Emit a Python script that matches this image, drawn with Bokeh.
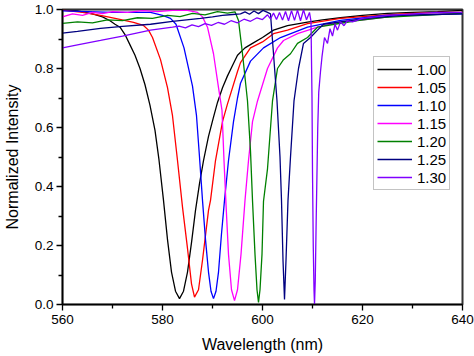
from bokeh.plotting import figure
from bokeh.models import Range1d, FixedTicker, Legend, LegendItem
from bokeh.embed import file_html
from bokeh.resources import INLINE

# ---- data ----
labels = ["1.00", "1.05", "1.10", "1.15", "1.20", "1.25", "1.30"]
colors = ["#000000", "#FF0000", "#0000FF", "#FF00FF", "#008000", "#000080", "#8000FF"]

wl_100 = [560, 563, 566, 568, 569.5, 570.5, 571.5, 572.5, 573.5, 574.5, 575.5, 576.5, 577.5, 578.5, 579.3,
          580.2, 581, 581.8, 582.6, 583.4, 584.2, 585, 585.8, 586.6, 587.4, 588.2, 589.2, 590.2, 591, 592,
          593, 594, 595, 596.5, 598, 600, 602.2, 605, 609, 612, 615.6, 620, 625, 630, 635, 640]
in_100 = [0.998, 0.995, 0.985, 0.975, 0.962, 0.95, 0.94, 0.915, 0.88, 0.845, 0.80, 0.745, 0.675, 0.59, 0.49,
          0.353, 0.22, 0.11, 0.045, 0.02, 0.045, 0.11, 0.21, 0.319, 0.41, 0.488, 0.57, 0.635, 0.685, 0.735,
          0.775, 0.81, 0.845, 0.87, 0.885, 0.905, 0.93, 0.945, 0.957, 0.965, 0.972, 0.98, 0.987, 0.99, 0.993, 0.997]

wl_105 = [560, 564, 567.6, 571, 574.2, 576.2, 577.2, 578, 579.6, 581, 582, 583, 584, 585, 585.8, 586.4,
          587.2, 588, 589.2, 589.6, 590.6, 592, 593, 595, 595.6, 597.6, 600, 602.2, 605, 609, 615.6, 620,
          627.8, 635, 640]
in_105 = [0.998, 0.99, 0.98, 0.968, 0.956, 0.946, 0.93, 0.905, 0.83, 0.735, 0.64, 0.488, 0.33, 0.19, 0.07, 0.025,
          0.05, 0.15, 0.319, 0.353, 0.488, 0.62, 0.68, 0.79, 0.82, 0.87, 0.89, 0.918, 0.93, 0.952, 0.97, 0.976,
          0.985, 0.99, 0.99]

wl_110 = [560, 570, 577.6, 580, 581.6, 582.7, 584.3, 586, 586.8, 587.4, 588, 588.6, 589.2, 589.7, 590.2,
          590.7, 591.2, 591.8, 592.4, 593.2, 594.2, 595, 595.6, 597.6, 600.2, 603.6, 609, 615.6, 624.4, 640]
in_110 = [0.995, 0.99, 0.99, 0.98, 0.97, 0.95, 0.87, 0.74, 0.64, 0.50, 0.353, 0.22, 0.11, 0.045, 0.02,
          0.045, 0.11, 0.24, 0.353, 0.488, 0.62, 0.70, 0.75, 0.825, 0.87, 0.905, 0.94, 0.963, 0.98, 0.985]

wl_115 = [560, 562, 564, 566, 568, 570, 573, 576, 579, 582, 585, 587, 588, 589, 590.2, 591.2, 591.9, 592.3,
          592.7, 593.2, 593.8, 594.4, 595, 595.7, 596.5, 597.2, 598, 599, 601, 603, 604.2, 607, 611, 615.6,
          620, 627.8, 640]
in_115 = [0.975, 0.985, 0.98, 0.99, 0.986, 0.993, 0.99, 0.996, 0.993, 0.997, 0.997, 0.99, 0.975, 0.94, 0.85,
          0.735, 0.658, 0.488, 0.34, 0.17, 0.05, 0.013, 0.05, 0.17, 0.353, 0.488, 0.62, 0.69, 0.80, 0.87, 0.895,
          0.918, 0.94, 0.957, 0.965, 0.98, 0.987]

wl_120 = [560, 563, 566, 569, 572, 575, 578, 581, 583.5, 586, 588.5, 591, 593, 594.5, 595.2, 596, 597, 597.6, 598,
          598.5, 598.9, 599.2, 599.5, 599.9, 600.2, 601, 602, 603, 604.2, 605.6, 607, 609, 611, 614.4, 619,
          624.4, 632, 640]
in_120 = [0.953, 0.958, 0.955, 0.965, 0.962, 0.972, 0.97, 0.98, 0.976, 0.987, 0.982, 0.993, 0.988, 0.992, 0.963, 0.85, 0.69,
          0.52, 0.353, 0.17, 0.05, 0.007, 0.05, 0.17, 0.35, 0.46, 0.69, 0.80, 0.83, 0.85, 0.885, 0.905, 0.94,
          0.95, 0.962, 0.973, 0.98, 0.987]

wl_125 = [560, 563, 567.6, 572, 577.6, 582, 587.6, 590, 592, 594, 595.6, 596.5, 597.4, 598.3, 599.2, 600.1,
          601, 601.6, 602.2, 602.9, 603.5, 603.8, 604.1, 604.4, 604.7, 605.1, 605.6, 606.3, 607.2, 608.2,
          609.6, 611, 612.2, 617.8, 622, 627.8, 634, 640]
in_125 = [0.92, 0.926, 0.936, 0.943, 0.95, 0.96, 0.97, 0.975, 0.98, 0.983, 0.985, 0.992, 0.984, 0.995, 0.986,
          0.997, 0.99, 0.985, 0.85, 0.69, 0.50, 0.353, 0.15, 0.017, 0.15, 0.353, 0.50, 0.69, 0.80, 0.885,
          0.905, 0.93, 0.95, 0.963, 0.972, 0.98, 0.983, 0.985]

wl_130 = [560, 563, 567.6, 572, 577.6, 582, 583.3, 584.6, 585.9, 587.2, 588.5, 589.8, 591.1, 592.4, 593.7,
          595, 596.3, 597.6, 598.9, 600, 601, 601.6, 602.2, 602.8, 603.4,
          604, 604.6, 605.2, 605.8, 606.4, 607, 607.6, 608.2, 608.8, 609.4, 609.7, 609.9, 610.0, 610.15,
          610.3, 610.4, 610.55, 610.75, 610.9, 611.05, 611.25, 611.6, 611.9, 612.4, 613, 613.5, 614, 614.5,
          615, 615.6, 616.3, 617, 618, 620, 625, 630, 635, 640]
in_130 = [0.87, 0.88, 0.895, 0.91, 0.93, 0.94, 0.944, 0.938, 0.948, 0.942, 0.952, 0.946, 0.956, 0.95, 0.962,
          0.955, 0.967, 0.96, 0.972, 0.966, 0.982, 0.968, 0.988, 0.966,
          0.99, 0.964, 0.993, 0.962, 0.996, 0.963, 0.998, 0.962, 0.999, 0.965, 0.99, 0.96, 0.70, 0.45, 0.20,
          0.05, 0.0, 0.08, 0.30, 0.45, 0.60, 0.72, 0.79, 0.84, 0.905, 0.885, 0.935, 0.91, 0.95, 0.93, 0.958,
          0.945, 0.962, 0.958, 0.97, 0.98, 0.985, 0.99, 0.99]

series_wl = [wl_100, wl_105, wl_110, wl_115, wl_120, wl_125, wl_130]
series_in = [in_100, in_105, in_110, in_115, in_120, in_125, in_130]

x_ticks = [560, 580, 600, 620, 640]
x_minor = [570, 590, 610, 630]
y_ticks = [0.0, 0.2, 0.4, 0.6, 0.8, 1.0]
y_tick_labels = ["0.0", "0.2", "0.4", "0.6", "0.8", "1.0"]
y_minor = [0.1, 0.3, 0.5, 0.7, 0.9]

FONT = "Liberation Sans"

p = figure(width=474, height=356, output_backend="svg", toolbar_location=None,
           x_range=Range1d(560, 640), y_range=Range1d(0, 1.0),
           min_border_left=62, min_border_right=12, min_border_top=9, min_border_bottom=52)
p.background_fill_color = "white"
p.border_fill_color = "white"
p.grid.visible = False
p.outline_line_color = "#333333"
p.outline_line_width = 2

items = []
for lab, col, xs, ys in zip(labels, colors, series_wl, series_in):
    r = p.line(xs, ys, line_color=col, line_width=1.3)
    items.append(LegendItem(label=lab, renderers=[r]))

for ax in (p.xaxis[0], p.yaxis[0]):
    ax.axis_line_color = "black"
    ax.axis_line_width = 1.5
    ax.major_tick_out = 6
    ax.major_tick_in = 0
    ax.minor_tick_out = 4
    ax.minor_tick_in = 0
    ax.major_tick_line_width = 1.3
    ax.minor_tick_line_width = 1.3
    ax.major_label_text_font = FONT
    ax.major_label_text_font_size = "13.5px"
    ax.major_label_text_color = "black"
    ax.axis_label_text_font = FONT
    ax.axis_label_text_font_size = "16px"
    ax.axis_label_text_font_style = "normal"
    ax.axis_label_text_color = "black"

p.xaxis.ticker = FixedTicker(ticks=x_ticks, minor_ticks=x_minor)
p.yaxis.ticker = FixedTicker(ticks=y_ticks, minor_ticks=y_minor)
p.yaxis.major_label_overrides = {t: s for t, s in zip(y_ticks, y_tick_labels)}
p.xaxis.axis_label = "Wavelength (nm)"
p.yaxis.axis_label = "Normalized Intensity"
p.xaxis.major_label_standoff = 4
p.yaxis.major_label_standoff = 3
p.xaxis.axis_label_standoff = 9
p.yaxis.axis_label_standoff = 11
p.yaxis.axis_label_text_line_height = 0.7

legend = Legend(items=items, location=(311, 114))
legend.border_line_color = "#888888"
legend.border_line_width = 1
legend.background_fill_alpha = 1
legend.padding = 3
legend.margin = 0
legend.spacing = 0
legend.label_height = 18
legend.glyph_height = 18
legend.glyph_width = 35
legend.label_standoff = 5
legend.label_text_font = FONT
legend.label_text_font_size = "15px"
legend.label_text_line_height = 1.0
legend.label_text_color = "black"
p.add_layout(legend, "center")

open("out.html", "w").write(file_html(p, INLINE))
